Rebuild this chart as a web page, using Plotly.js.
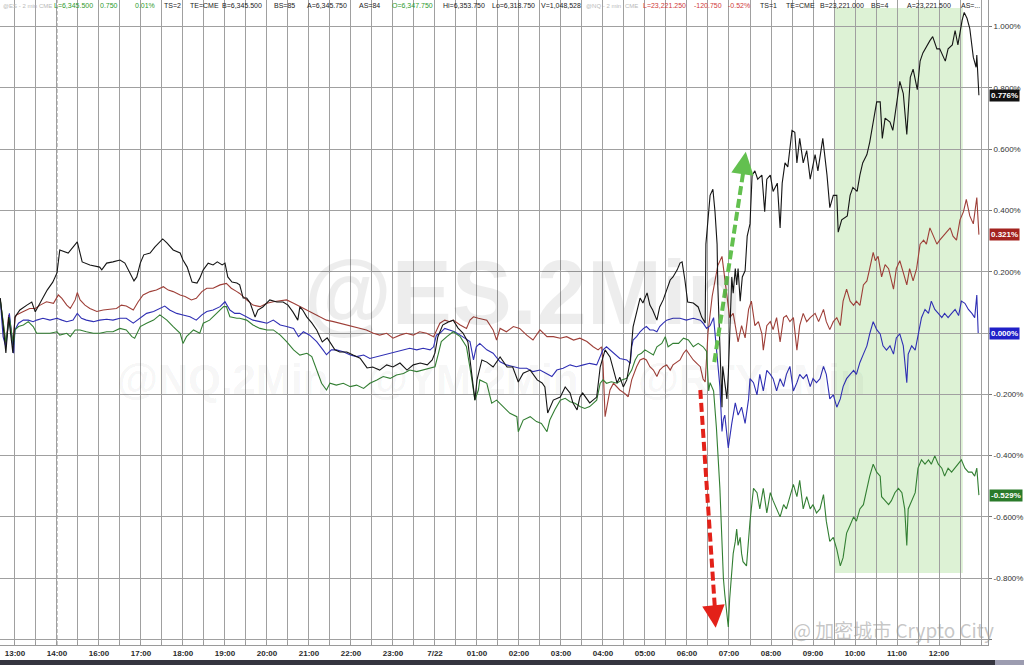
<!DOCTYPE html>
<html><head><meta charset="utf-8">
<script src="https://cdn.plot.ly/plotly-3.0.1.min.js"></script>
<style>html,body{margin:0;padding:0;background:#fff}#chart{width:1024px;height:665px}</style>
</head><body><div id="chart"></div>
<script>
// x = session minutes after 13:00 (the closed hour 15:00 is skipped); y = % change
const tickMinutes = [0,60,120,180,240,300,360,420,480,540,600,660,720,780,840,900,960,1020,1080,1140,1200,1260,1320];
const tickLabels = ['13:00','14:00','16:00','17:00','18:00','19:00','20:00','21:00','22:00','23:00','7/22','01:00','02:00','03:00','04:00','05:00','06:00','07:00','08:00','09:00','10:00','11:00','12:00'];
const pctTicks = [-1.0,-0.8,-0.6,-0.4,-0.2,0,0.2,0.4,0.6,0.8,1.0];

const blackMin = [-21,-13,-9,-3,0,7,17,24,29,36,
46,54,60,64,76,89,96,107,121,124,
131,140,150,157,164,170,174,179,184,193,
200,207,211,217,226,236,240,246,253,260,
264,269,276,283,289,296,300,304,310,317,
321,326,331,336,343,347,354,364,374,383,
390,397,404,407,411,417,424,431,439,446,
450,457,464,474,483,493,503,511,521,531,
540,550,560,569,579,589,596,600,604,611,
619,626,633,640,647,654,657,660,667,674,
683,693,703,711,719,726,736,746,753,757,
761,769,779,786,793,797,803,807,811,821,
831,836,843,850,854,860,864,869,874,879,
883,889,893,897,903,907,911,917,921,926,
931,936,940,946,950,953,957,961,969,976,
981,986,987,993,997,1000,1003,1004,1007,1010,
1011,1014,1017,1019,1021,1024,1026,1029,1031,1033,
1036,1039,1043,1046,1050,1053,1057,1061,1067,1071,
1074,1079,1083,1089,1093,1096,1100,1104,1110,1114,
1117,1121,1126,1131,1136,1143,1147,1154,1160,1164,
1169,1174,1176,1181,1189,1193,1197,1203,1207,1211,
1217,1221,1226,1231,1236,1239,1243,1250,1254,1260,
1264,1269,1274,1279,1283,1289,1293,1297,1303,1307,
1311,1317,1321,1329,1333,1339,1343,1347,1353,1356,
1360,1364,1369,1373,1374,1377];
const blackPct = [0.114,-0.065,0.052,-0.065,0.052,0.075,0.091,0.101,0.069,0.098,
0.140,0.166,0.196,0.271,0.261,0.297,0.232,0.222,0.215,0.206,
0.228,0.232,0.238,0.228,0.196,0.170,0.183,0.228,0.255,0.261,
0.281,0.297,0.307,0.294,0.271,0.261,0.238,0.215,0.166,0.163,
0.179,0.206,0.228,0.222,0.232,0.222,0.228,0.183,0.166,0.163,
0.157,0.114,0.114,0.098,0.052,0.075,0.085,0.108,0.101,0.101,
0.091,0.069,0.042,0.085,0.075,0.052,0.033,0.010,-0.029,-0.016,
-0.029,-0.055,-0.062,-0.062,-0.072,-0.082,-0.114,-0.111,-0.121,-0.104,
-0.111,-0.098,-0.121,-0.104,-0.098,-0.104,-0.088,-0.065,-0.013,0.026,
0.036,0.042,0.016,0.000,-0.029,-0.153,-0.219,-0.153,-0.088,-0.095,
-0.111,-0.078,-0.111,-0.111,-0.160,-0.131,-0.121,-0.153,-0.163,-0.176,
-0.261,-0.219,-0.209,-0.176,-0.196,-0.228,-0.251,-0.209,-0.196,-0.228,
-0.209,-0.111,-0.055,-0.078,-0.111,-0.163,-0.144,-0.176,-0.153,-0.088,
0.020,0.075,0.114,0.098,0.131,0.091,0.075,0.042,0.085,0.108,
0.140,0.173,0.183,0.206,0.228,0.232,0.173,0.101,0.098,0.085,
0.052,0.033,0.290,0.449,0.469,0.396,0.290,0.157,-0.042,-0.242,
-0.109,-0.162,-0.215,-0.135,0.024,0.183,0.130,0.210,0.157,0.210,
0.104,0.183,0.203,0.316,0.356,0.515,0.529,0.502,0.515,0.396,
0.502,0.515,0.462,0.489,0.343,0.489,0.555,0.542,0.661,0.655,
0.555,0.635,0.555,0.595,0.502,0.582,0.529,0.635,0.515,0.409,
0.449,0.449,0.329,0.369,0.382,0.449,0.475,0.462,0.515,0.555,
0.582,0.622,0.688,0.754,0.754,0.635,0.701,0.688,0.661,0.768,
0.821,0.781,0.648,0.834,0.861,0.794,0.887,0.914,0.940,0.954,
0.967,0.927,0.927,0.887,0.927,0.940,0.987,0.940,1.020,1.046,
1.027,0.993,0.900,0.867,0.907,0.776];

const redMin = [-21,-13,-9,-3,0,2,12,21,29,36,
45,55,62,67,74,79,86,89,93,100,
107,117,126,136,145,152,159,169,176,183,
193,202,212,219,226,236,243,252,259,267,
274,283,293,302,309,317,321,331,340,350,
360,369,379,388,398,407,417,426,436,445,
455,464,474,483,493,502,512,521,531,540,
550,559,569,578,588,598,607,614,621,626,
636,645,650,655,662,674,683,688,693,702,
712,721,731,740,750,755,760,769,779,788,
798,807,817,826,833,838,840,843,845,850,
855,860,864,871,876,881,888,893,898,902,
907,912,917,921,926,931,936,940,950,955,
959,964,969,974,979,983,986,990,996,1000,
1004,1010,1012,1017,1021,1026,1029,1033,1038,1043,
1048,1052,1057,1062,1067,1069,1074,1079,1083,1088,
1093,1098,1102,1107,1112,1117,1121,1126,1131,1136,
1143,1148,1155,1159,1164,1169,1174,1179,1183,1188,
1193,1198,1202,1207,1212,1217,1221,1226,1229,1233,
1238,1243,1248,1252,1255,1259,1264,1269,1274,1278,
1283,1288,1293,1298,1302,1307,1312,1317,1321,1326,
1331,1336,1340,1345,1350,1355,1359,1364,1369,1374,
1377];
const redPct = [0.108,-0.039,0.059,-0.039,0.049,0.059,0.070,0.080,0.080,0.091,
0.102,0.097,0.124,0.113,0.091,0.080,0.108,0.132,0.108,0.091,
0.080,0.070,0.075,0.077,0.080,0.091,0.088,0.075,0.102,0.124,
0.135,0.140,0.151,0.140,0.135,0.124,0.119,0.108,0.113,0.135,
0.146,0.146,0.157,0.162,0.146,0.135,0.129,0.108,0.091,0.086,
0.097,0.102,0.105,0.108,0.097,0.086,0.075,0.064,0.053,0.042,
0.037,0.032,0.026,0.021,0.015,0.010,-0.001,-0.007,-0.001,-0.017,
-0.007,-0.001,-0.007,0.004,-0.001,-0.012,0.032,0.042,0.037,0.042,
0.026,0.015,0.042,0.053,0.048,0.042,0.010,-0.023,0.015,0.004,
0.021,0.015,-0.007,-0.023,0.010,-0.001,-0.012,-0.012,-0.017,-0.012,
-0.023,-0.017,-0.028,-0.045,-0.055,-0.045,-0.099,-0.273,-0.251,-0.186,
-0.164,-0.175,-0.186,-0.197,-0.208,-0.153,-0.110,-0.088,-0.083,-0.088,
-0.110,-0.121,-0.142,-0.121,-0.110,-0.104,-0.121,-0.104,-0.088,-0.066,
-0.055,-0.072,-0.088,-0.099,-0.110,-0.150,-0.160,0.000,0.120,0.170,
0.220,0.250,0.210,0.130,0.050,0.064,0.024,-0.029,0.024,-0.016,
0.077,0.104,0.024,0.037,-0.003,-0.056,0.024,0.037,0.011,0.050,
-0.029,0.050,0.057,0.037,0.050,-0.056,0.024,0.064,0.037,0.050,
0.064,0.037,0.077,0.037,0.011,0.037,0.050,0.024,0.104,0.143,
0.104,0.090,0.104,0.090,0.157,0.170,0.210,0.263,0.236,0.250,
0.183,0.223,0.210,0.170,0.143,0.210,0.236,0.197,0.157,0.210,
0.170,0.210,0.290,0.303,0.290,0.343,0.316,0.290,0.303,0.316,
0.329,0.343,0.316,0.303,0.369,0.396,0.436,0.382,0.356,0.442,
0.321];

const blueMin = [-21,-17,-13,-8,-2,0,5,12,19,26,
31,40,50,60,67,74,83,89,95,102,
112,121,131,140,150,159,169,179,188,198,
207,214,221,231,240,250,259,267,274,283,
293,300,307,314,321,331,340,350,360,369,
379,388,398,405,412,421,431,440,445,452,
459,469,479,488,498,507,517,526,536,545,
555,564,574,583,593,598,602,607,614,621,
628,636,643,650,655,659,664,674,683,693,
702,712,721,731,740,750,760,767,774,783,
793,802,812,821,831,836,840,845,850,855,
864,874,879,881,883,888,893,898,902,907,
912,917,921,926,931,940,950,959,969,979,
983,988,993,998,1002,1007,1010,1012,1014,1019,
1024,1029,1033,1038,1043,1048,1050,1055,1060,1064,
1069,1074,1079,1083,1088,1093,1098,1102,1107,1112,
1117,1121,1126,1131,1136,1140,1145,1150,1155,1159,
1164,1169,1174,1179,1183,1188,1193,1198,1202,1207,
1212,1217,1221,1226,1231,1236,1240,1245,1250,1255,
1259,1264,1269,1274,1276,1281,1286,1290,1295,1300,
1305,1309,1314,1319,1324,1328,1333,1338,1343,1348,
1352,1357,1362,1367,1371,1374,1376];
const bluePct = [0.108,-0.012,-0.045,0.064,-0.066,0.010,0.032,0.042,0.042,0.037,
0.042,0.048,0.042,0.048,0.042,0.037,0.042,0.064,0.048,0.042,
0.037,0.042,0.045,0.042,0.048,0.048,0.032,0.048,0.064,0.070,
0.080,0.088,0.075,0.064,0.059,0.053,0.042,0.059,0.070,0.075,
0.086,0.102,0.075,0.064,0.064,0.053,0.042,0.037,0.032,0.042,
0.026,0.021,0.015,-0.012,0.004,-0.007,-0.028,-0.055,-0.071,-0.055,
-0.055,-0.061,-0.072,-0.077,-0.072,-0.083,-0.077,-0.072,-0.066,-0.061,
-0.055,-0.050,-0.055,-0.050,-0.055,-0.045,-0.007,-0.001,0.015,0.010,
0.004,-0.007,-0.017,-0.028,-0.088,-0.045,-0.034,-0.055,-0.066,-0.094,
-0.104,-0.110,-0.115,-0.115,-0.126,-0.121,-0.132,-0.142,-0.121,-0.115,
-0.104,-0.110,-0.104,-0.099,-0.104,-0.077,-0.055,-0.045,-0.055,-0.066,
-0.083,-0.088,-0.099,-0.045,-0.023,-0.012,0.004,0.015,0.021,0.010,
0.010,0.004,0.021,0.032,0.042,0.048,0.048,0.042,0.048,0.042,
0.032,0.015,0.024,0.050,-0.056,-0.175,-0.321,-0.282,-0.268,-0.375,
-0.295,-0.228,-0.268,-0.242,-0.295,-0.215,-0.149,-0.162,-0.202,-0.135,
-0.189,-0.122,-0.135,-0.149,-0.189,-0.149,-0.175,-0.135,-0.109,-0.189,
-0.162,-0.135,-0.149,-0.135,-0.175,-0.149,-0.162,-0.149,-0.109,-0.135,
-0.215,-0.202,-0.242,-0.215,-0.175,-0.149,-0.135,-0.122,-0.135,-0.096,
-0.069,-0.042,-0.003,0.037,0.011,-0.003,-0.042,-0.056,-0.042,-0.069,
-0.016,-0.003,-0.042,-0.162,-0.069,-0.042,-0.056,-0.003,0.050,0.077,
0.064,0.104,0.077,0.064,0.050,0.064,0.050,0.064,0.077,0.057,
0.104,0.097,0.077,0.064,0.050,0.124,0.000];

const greenMin = [-21,-13,-8,-2,0,5,12,19,26,31,
40,50,60,64,74,79,86,93,102,112,
121,131,140,150,159,167,171,179,188,198,
207,217,226,236,240,245,255,264,269,278,
288,298,302,307,317,321,331,340,350,360,
369,379,388,398,407,417,424,431,438,445,
450,459,469,479,488,498,507,517,526,536,
545,555,564,574,583,593,600,605,609,617,
626,636,645,652,657,662,664,674,681,688,
698,707,717,719,726,736,745,752,760,764,
771,779,786,793,800,807,814,821,831,836,
840,845,852,860,867,874,881,886,890,895,
900,907,912,917,924,929,933,940,948,955,
962,969,976,983,988,991,993,998,1002,1007,
1012,1014,1017,1019,1021,1024,1026,1029,1031,1033,
1036,1038,1040,1045,1050,1055,1060,1064,1069,1074,
1079,1083,1088,1093,1098,1102,1107,1112,1117,1121,
1126,1131,1136,1140,1145,1150,1155,1159,1164,1169,
1174,1179,1183,1188,1193,1198,1202,1207,1212,1217,
1221,1226,1231,1236,1238,1243,1248,1252,1257,1262,
1267,1271,1274,1276,1281,1286,1290,1295,1300,1305,
1309,1314,1319,1324,1328,1333,1338,1343,1348,1352,
1357,1362,1367,1371,1374,1377];
const greenPct = [0.108,-0.030,0.050,-0.040,0.010,0.021,0.026,0.037,0.021,-0.001,
-0.001,-0.001,0.004,-0.007,-0.001,-0.012,0.010,0.010,0.004,-0.001,
-0.001,0.004,0.004,0.015,0.010,-0.012,-0.017,0.021,0.032,0.042,
0.059,0.042,0.021,-0.001,-0.034,-0.012,0.010,-0.001,0.032,0.042,
0.064,0.086,0.086,0.053,0.048,0.048,0.042,0.026,0.015,0.010,
0.010,-0.007,-0.028,-0.055,-0.072,-0.066,-0.077,-0.121,-0.164,-0.186,
-0.164,-0.170,-0.164,-0.175,-0.170,-0.181,-0.164,-0.153,-0.142,-0.148,
-0.137,-0.132,-0.121,-0.126,-0.121,-0.115,-0.110,-0.066,-0.028,-0.012,
0.004,-0.012,-0.045,-0.142,-0.219,-0.186,-0.153,-0.164,-0.229,-0.219,
-0.240,-0.262,-0.273,-0.322,-0.284,-0.273,-0.289,-0.295,-0.322,-0.284,
-0.251,-0.219,-0.213,-0.224,-0.229,-0.240,-0.246,-0.240,-0.219,-0.164,
-0.153,-0.164,-0.159,-0.164,-0.153,-0.148,-0.121,-0.088,-0.072,-0.066,
-0.055,-0.066,-0.072,-0.045,-0.034,-0.012,-0.045,-0.034,-0.034,-0.017,
-0.023,-0.045,-0.034,-0.045,-0.060,-0.189,-0.162,-0.189,-0.308,-0.507,
-0.800,-0.853,-0.906,-0.959,-0.866,-0.773,-0.720,-0.680,-0.640,-0.693,
-0.667,-0.720,-0.746,-0.760,-0.614,-0.507,-0.521,-0.574,-0.507,-0.587,
-0.521,-0.547,-0.574,-0.600,-0.560,-0.574,-0.534,-0.494,-0.534,-0.481,
-0.574,-0.534,-0.574,-0.560,-0.587,-0.574,-0.527,-0.614,-0.680,-0.667,
-0.706,-0.760,-0.733,-0.653,-0.627,-0.600,-0.614,-0.574,-0.560,-0.507,
-0.467,-0.428,-0.454,-0.467,-0.534,-0.547,-0.560,-0.547,-0.521,-0.507,
-0.521,-0.574,-0.693,-0.574,-0.547,-0.521,-0.441,-0.414,-0.428,-0.414,
-0.428,-0.401,-0.428,-0.441,-0.467,-0.441,-0.454,-0.441,-0.428,-0.414,
-0.441,-0.454,-0.454,-0.467,-0.441,-0.529];

const headerTokens = [
  ['@ES - 2 min', '#b9b9b9', 1, 6], ['CME', '#b9b9b9', 37, 6],
  ['L=6,345.500', '#2e9a2e', 52, 7], ['0.750', '#2e9a2e', 98, 7], ['0.01%', '#2e9a2e', 133, 7],
  ['TS=2', '#222', 162, 7], ['TE=CME', '#222', 188, 7], ['B=6,345.500', '#222', 220, 7],
  ['BS=85', '#222', 272, 7], ['A=6,345.750', '#222', 305, 7], ['AS=84', '#222', 357, 7],
  ['O=6,347.750', '#2e9a2e', 390, 7], ['Hi=6,353.750', '#222', 441, 7], ['Lo=6,318.750', '#222', 490, 7],
  ['V=1,048,528', '#222', 539, 7], ['@NQ - 2 min', '#b9b9b9', 584, 6], ['CME', '#b9b9b9', 623, 6],
  ['L=23,221.250', '#d03a3a', 641, 7], ['-120.750', '#d03a3a', 692, 7], ['-0.52%', '#d03a3a', 726, 7],
  ['TS=1', '#222', 758, 7], ['TE=CME', '#222', 784, 7], ['B=23,221.000', '#222', 818, 7],
  ['BS=4', '#222', 869, 7], ['A=23,221.500', '#222', 905, 7], ['AS=...', '#222', 959, 7]
];

const W = 1024, H = 665, ML = 0, MR = 36, MT = 0, MB = 20;
const plotW = W - ML - MR, plotH = H - MT - MB;

const series = [
  {t: redMin, v: redPct, color: '#9e3f38', box: '#a3231f'},
  {t: blueMin, v: bluePct, color: '#2f2fb4', box: '#2020c8'},
  {t: greenMin, v: greenPct, color: '#337f33', box: '#2a7a2a'},
  {t: blackMin, v: blackPct, color: '#151515', box: '#111111'}
];
series.forEach(s => { if (s.t.length !== s.v.length) console.error('length mismatch', s.t.length, s.v.length); });

const traces = series.map(s => ({
  type: 'scatter', mode: 'lines', x: s.t, y: s.v,
  line: {color: s.color, width: 1.1}, hoverinfo: 'skip', showlegend: false
}));

const fmtPct = v => (v < 0 ? '-' : '') + Math.abs(v).toFixed(3) + '%';
const lastVals = series.map(s => s.v[s.v.length - 1]);

const annotations = [];
headerTokens.forEach(([txt, col, px, fs]) => {
  annotations.push({xref: 'paper', yref: 'paper', x: px / plotW, y: 1 - 6 / plotH,
    xanchor: 'left', yanchor: 'middle', showarrow: false, text: txt,
    font: {family: 'Liberation Sans, Arial', size: fs, color: col}});
});
// watermarks
annotations.push({xref: 'paper', yref: 'paper', x: 523 / plotW, y: (plotH - 293) / plotH, xanchor: 'center', yanchor: 'middle', showarrow: false,
  text: '@ES.2Min', font: {family: 'Liberation Sans, Arial', size: 90, color: 'rgba(0,0,0,0.07)', weight: 'bold'}});
[['@NQ.2Min', 222], ['@YM.2Min', 472], ['@RTY.2Min', 752]].forEach(([t, cx]) => {
  annotations.push({xref: 'paper', yref: 'paper', x: cx / plotW, y: (plotH - 380) / plotH, xanchor: 'center', yanchor: 'middle', showarrow: false,
    text: t, font: {family: 'Liberation Sans, Arial', size: 42, color: 'rgba(0,0,0,0.055)', weight: 'bold'}});
});
annotations.push({xref: 'paper', yref: 'paper', x: 893 / plotW, y: (plotH - 629) / plotH, xanchor: 'center', yanchor: 'middle', showarrow: false,
  text: '@ 加密城市 Crypto City', font: {family: 'Noto Sans CJK SC, Liberation Sans', size: 19, color: 'rgba(150,150,150,0.55)'}});
// last-value boxes on the right axis
series.forEach((s, i) => {
  annotations.push({xref: 'paper', yref: 'y', x: 1, y: lastVals[i], xanchor: 'left', yanchor: 'middle', xshift: 1,
    showarrow: false, text: '<b>' + fmtPct(lastVals[i]) + '</b>', bgcolor: s.box, borderpad: 1,
    font: {family: 'Liberation Sans, Arial', size: 8, color: '#ffffff'}});
});
// arrow heads
annotations.push({x: 1001, y: -0.962, xref: 'x', yref: 'y', ax: -1, ay: -10, text: '', showarrow: true,
  arrowhead: 2, arrowsize: 1, arrowwidth: 4.5, arrowcolor: '#e32119', standoff: 0});
annotations.push({x: 1044, y: 0.591, xref: 'x', yref: 'y', ax: -1.5, ay: 10, text: '', showarrow: true,
  arrowhead: 2, arrowsize: 1, arrowwidth: 4.5, arrowcolor: '#63c04f', standoff: 0});

const shapes = [
  {type: 'rect', xref: 'x', yref: 'y', x0: 1170, x1: 1354, y0: -0.783, y1: 1.06,
   fillcolor: '#ddf2d5', line: {width: 0}, layer: 'below'},
  {type: 'line', xref: 'x', yref: 'paper', x0: 60, x1: 60, y0: 0, y1: 1, line: {color: '#ffffff', width: 2}, layer: 'between'},
  {type: 'line', xref: 'x', yref: 'paper', x0: 60, x1: 60, y0: 0, y1: 1, line: {color: '#a8a8a8', width: 1.3, dash: '4px,2px'}, layer: 'between'},
  {type: 'line', xref: 'x', yref: 'y', x0: 979, y0: -0.186, x1: 1000.5, y1: -0.92, line: {color: '#e32119', width: 4, dash: '9px,4px'}},
  {type: 'line', xref: 'x', yref: 'y', x0: 999, y0: -0.095, x1: 1042, y1: 0.55, line: {color: '#63c04f', width: 4, dash: '9px,4px'}},
  {type: 'rect', xref: 'paper', yref: 'paper', x0: 0, x1: W / plotW, y0: -(660 - plotH) / plotH, y1: -(666 - plotH) / plotH,
   fillcolor: '#35353f', line: {width: 0}},
  {type: 'rect', xref: 'paper', yref: 'paper', x0: 995 / plotW, x1: W / plotW, y0: -(660 - plotH) / plotH, y1: -(666 - plotH) / plotH,
   fillcolor: '#9c9cb0', line: {width: 0}}
];

// the tick label hidden under a last-value box is left blank (the box shows the value)
const coveredTick = v => lastVals.some(l => Math.abs(l - v) < 0.012);

const layout = {
  width: W, height: H, margin: {l: ML, r: MR, t: MT, b: MB, pad: 0},
  paper_bgcolor: '#ffffff', plot_bgcolor: '#ffffff', showlegend: false,
  xaxis: {range: [-21.4, 1390], tickmode: 'array', tickvals: tickMinutes, ticktext: tickLabels,
    showgrid: true, gridcolor: '#a0a0a0', gridwidth: 1, zeroline: false,
    showline: true, linecolor: '#9a9a9a', linewidth: 1, ticks: 'inside', ticklen: 3, tickcolor: '#9a9a9a',
    minor: {tickmode: 'linear', tick0: 0, dtick: 30, showgrid: true, gridcolor: '#a0a0a0', gridwidth: 1, ticks: 'inside', ticklen: 3, tickcolor: '#9a9a9a'},
    tickfont: {family: 'Liberation Sans, Arial', size: 8, color: '#2a2a2a', weight: 'bold'}, fixedrange: true},
  yaxis: {range: [-1.018, 1.0865], side: 'right', tickmode: 'array', tickvals: pctTicks,
    ticktext: pctTicks.map(v => (v === -1 || coveredTick(v)) ? '' : fmtPct(v)),
    showgrid: true, gridcolor: '#a0a0a0', gridwidth: 1, zeroline: false,
    showline: true, linecolor: '#9a9a9a', linewidth: 1, ticks: 'outside', ticklen: 3, tickcolor: '#777',
    tickfont: {family: 'Liberation Sans, Arial', size: 8, color: '#333'}, fixedrange: true},
  annotations: annotations, shapes: shapes
};

Plotly.newPlot('chart', traces, layout, {displayModeBar: false, staticPlot: true});
</script></body></html>
